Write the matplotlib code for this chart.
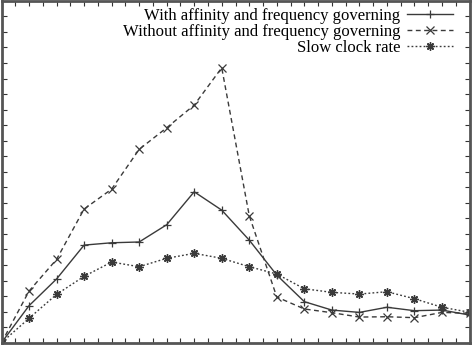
import numpy as np
import matplotlib
matplotlib.use("Agg")
import matplotlib.pyplot as plt
from matplotlib.ticker import MultipleLocator, NullFormatter

# ------------------------------
# DATA
# ------------------------------
steps = np.arange(18)

with_affinity = [0, 2.38, 4.10, 6.28, 6.43, 6.48, 7.59, 9.71, 8.53, 6.60,
                 4.35, 2.64, 2.10, 1.95, 2.28, 2.06, 2.10, 1.78]
without_affinity = [0, 3.32, 5.36, 8.60, 9.88, 12.44, 13.83, 15.29, 17.69, 8.17,
                    2.94, 2.17, 1.93, 1.65, 1.67, 1.61, 1.95, 1.89]
slow_clock = [0, 1.57, 3.11, 4.27, 5.19, 4.89, 5.43, 5.75, 5.43, 4.89,
              4.42, 3.47, 3.24, 3.13, 3.28, 2.83, 2.28, 1.96]

labels = ["With affinity and frequency governing",
          "Without affinity and frequency governing",
          "Slow clock rate"]

# ------------------------------
# PLOT
# ------------------------------
plt.rcParams['font.family'] = ['Liberation Serif', 'DejaVu Serif']

W, H = 474, 345
fig = plt.figure(figsize=(W / 100, H / 100), dpi=100)
ax = fig.add_axes([1.5 / W, 1 - 342.7 / H, (469.5 - 1.5) / W, (342.7 - 0.8) / H])

line_col = '#3a3a3a'
ax.plot(steps, with_affinity, color=line_col, lw=1.0, linestyle='-',
        marker='+', markersize=6, markeredgewidth=0.9, label=labels[0])
ax.plot(steps, without_affinity, color=line_col, lw=1.0, linestyle=(0, (3.5, 2.5)),
        marker='x', markersize=5.5, markeredgewidth=0.9, label=labels[1])
ax.plot(steps, slow_clock, color=line_col, lw=1.0, linestyle=(0, (1.3, 1.6)),
        marker=(8, 2, 0), markersize=6, markeredgewidth=1.0, label=labels[2])

ax.set_xlim(0, 17)
ax.set_ylim(0, 22)
ax.xaxis.set_major_locator(MultipleLocator(0.5))
ax.yaxis.set_major_locator(MultipleLocator(1))
ax.xaxis.set_major_formatter(NullFormatter())
ax.yaxis.set_major_formatter(NullFormatter())
ax.tick_params(direction='in', length=3.5, width=0.8, color='#333333',
               top=True, right=True, bottom=True, left=True)

for sp in ax.spines.values():
    sp.set_linewidth(2.0)
    sp.set_color('#555555')

leg = ax.legend(loc='upper right', bbox_to_anchor=(453 / W, 1 - 8 / H),
                bbox_transform=fig.transFigure, frameon=False, markerfirst=False,
                numpoints=1, fontsize=12.0, handlelength=2.75, handletextpad=0.42,
                labelspacing=0.0, borderpad=0, borderaxespad=0)

fig.savefig('out.png', dpi=100)
